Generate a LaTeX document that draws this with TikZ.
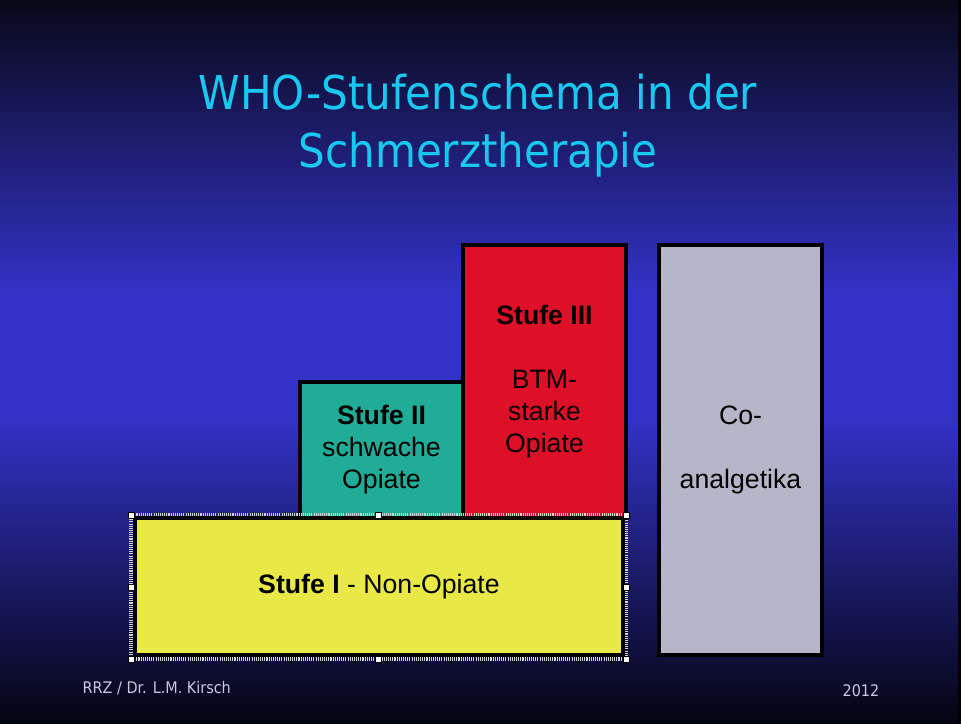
\documentclass[tikz,border=0pt]{standalone}
\usepackage{fontspec}
\setmainfont{Liberation Sans}
\newfontfamily\titlefont{DejaVu Sans Condensed}
\usetikzlibrary{positioning}

\definecolor{slidetop}{RGB}{8,8,24}
\definecolor{slidemid}{RGB}{50,50,198}
\definecolor{slidebot}{RGB}{4,4,16}
\definecolor{titlecyan}{RGB}{25,200,240}
\definecolor{footgray}{RGB}{200,200,225}
\definecolor{stufeyellow}{RGB}{232,232,70}
\definecolor{stufeteal}{RGB}{32,172,150}
\definecolor{stufered}{RGB}{222,16,40}
\definecolor{cogray}{RGB}{182,182,200}

\begin{document}
\begin{tikzpicture}[x=0.75pt,y=-0.75pt,
    stufe/.style={draw=black, line width=2.6pt, align=center, inner sep=0pt,
      outer sep=0pt, minimum width=122.25pt, font=\fontsize{20}{24}\selectfont},
    handle/.style={draw=black, fill=white, minimum size=4.5pt, inner sep=0pt,
      line width=0.4pt},
    selframe/.style={draw=gray!35, line width=3pt, dash pattern=on 0.8pt off 0.8pt}]

  % background of the slide
  \useasboundingbox (0,0) rectangle (961,724);
  \shade[top color=slidetop, bottom color=slidemid] (0,0) rectangle (961,290);
  \fill[slidemid] (0,289) rectangle (961,421);
  \shade[top color=slidemid, bottom color=slidebot] (0,420) rectangle (961,724);
  \fill[black] (958,0) rectangle (961,724);

  % title
  \node[font=\titlefont\fontsize{35}{43.5}\selectfont, text=titlecyan, align=center]
    (title) at (478,126) {WHO-Stufenschema in der\\Schmerztherapie};

  % steps
  \node[stufe, fill=stufeteal, minimum height=102pt] (s2) at (381.5,450)
    {\textbf{Stufe II}\\schwache\\Opiate};
  \node[stufe, fill=stufered, minimum height=204.75pt, anchor=south west] (s3)
    at (s2.south east) {\textbf{Stufe III}\\[24pt]BTM-\\starke\\Opiate};
  \node[stufe, fill=cogray, minimum height=307.5pt] (co) at (740.5,450)
    {Co-\\[24pt]analgetika};

  % selection frame round step I
  \draw[selframe] (131,515) rectangle (626,659);
  \node[stufe, fill=stufeyellow, minimum width=366pt, minimum height=102.75pt] (s1)
    at (379,586.5) {\textbf{Stufe I} - Non-Opiate};
  \foreach \hx/\hy in {131/515, 378/515, 626/515, 131/587, 626/587, 131/659, 378/659, 626/659}
    \node[handle] at (\hx,\hy) {};

  % footer
  \node[font=\titlefont\fontsize{12}{14}\selectfont, text=footgray, anchor=west]
    (author) at (78,688) {RRZ / Dr. L.M. Kirsch};
  \node[font=\titlefont\fontsize{12}{14}\selectfont, text=footgray]
    (year) at (861,691) {2012};
\end{tikzpicture}
\end{document}
